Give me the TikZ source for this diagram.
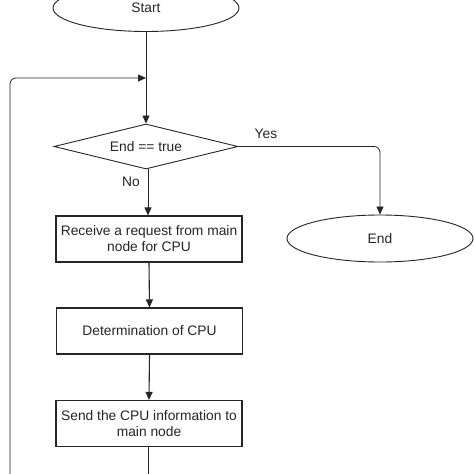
\documentclass[tikz,border=0pt]{standalone}
\usepackage{fontspec}
\setmainfont{Liberation Sans}
\usetikzlibrary{shapes.geometric,arrows.meta}
\begin{document}
\begin{tikzpicture}[x=1pt,y=-1pt,
  every node/.style={font=\fontsize{13.8}{16}\selectfont, text=black!85},
  term/.style={draw=black!85, line width=0.9pt, ellipse, minimum width=186pt, minimum height=47pt, inner sep=0pt},
  dec/.style={draw=black!85, line width=0.9pt, diamond, aspect=4.1, minimum width=184pt, minimum height=45pt, inner sep=0pt},
  proc/.style={draw=black!85, line width=1.1pt, rectangle, minimum width=186pt, minimum height=46pt, inner sep=1pt, align=center},
  conn/.style={draw=black!85, line width=0.8pt},
  arr/.style={conn, -{Triangle[length=8pt,width=7pt]}},
  thickarr/.style={arr, line width=1.1pt},
  lbl/.style={font=\fontsize{13.8}{16}\selectfont}
]
\useasboundingbox (0,0) rectangle (474,474);
\fill[white] (0,0) rectangle (474,474);

\node[term] (start) at (146,8) {Start};
\node[dec] (dec) at (146,146.5) {End == true};
\node[term] (end) at (380,238.5) {End};
\node[proc] (recv) at (149,239) {Receive a request from main\\node for CPU};
\node[proc] (det) at (149.5,331) {Determination of CPU};
\node[proc] (send) at (149,423.5) {Send the CPU information to\\main node};

\coordinate (merge) at (146,78);
\coordinate (loopbot) at (10,474);
\coordinate (sendout) at (148,474);

\draw[conn] (start.south) -- (merge);
\draw[arr] (merge) -- (dec.north);
\draw[arr, rounded corners=6pt] (loopbot) -- (10,78) -- (merge);
\draw[arr, rounded corners=6pt] (dec.east) -- (380,146.5) -- (end.north);
\node[lbl] (yes) at (266,134) {Yes};
\draw[arr] (148,169) -- (recv.north -| 148,0);
\node[lbl] (no) at (131,182) {No};
\draw[thickarr] (recv.south) -- (det.north);
\draw[thickarr] (det.south) -- (send.north);
\draw[conn] (send.south -| sendout) -- (sendout);
\end{tikzpicture}
\end{document}
